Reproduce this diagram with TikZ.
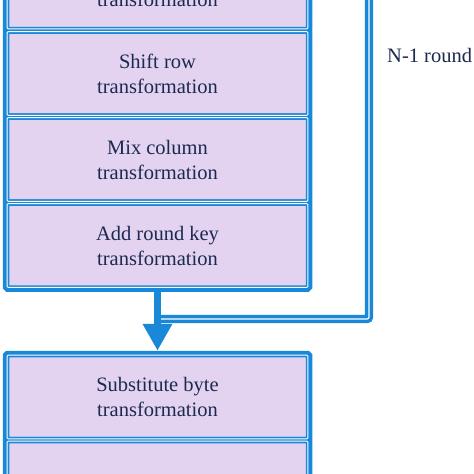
\documentclass[tikz,border=0pt]{standalone}
\usepackage{fontspec}
\setmainfont{Liberation Serif}
\usetikzlibrary{arrows.meta}
\definecolor{aesblue}{HTML}{1A88D8}
\definecolor{aesfill}{HTML}{E3D3F0}
\definecolor{aestext}{HTML}{1C2A50}
\tikzset{
  stagebox/.style={rectangle, draw=aesblue, fill=aesfill, line width=6.5pt,
    minimum width=303pt, minimum height=86pt, inner sep=0pt,
    align=center, text=aestext, font=\fontsize{20.5}{25}\selectfont,
    rounded corners=1.5pt},
  innerline/.style={draw=white, line width=0.9pt},
  flow/.style={draw=aesblue, line width=7pt},
  loopline/.style={draw=aesblue, line width=3.5pt, double=white, double distance=1.2pt},
  lbl/.style={text=aestext, font=\fontsize{20.5}{25}\selectfont, inner sep=0pt, anchor=west}
}
\begin{document}
\begin{tikzpicture}[x=1pt,y=-1pt]
\useasboundingbox (0,0) rectangle (474,474);
\clip (0,0) rectangle (474,474);
\fill[white] (0,0) rectangle (474,474);
% loop connector
\coordinate (j) at (157.5,319);
\coordinate (c) at (369,319);
\coordinate (t) at (369,-20);
\draw[loopline, rounded corners=2pt] (j) -- (c) -- (t);
% boxes
\node[stagebox] (top) at (157.5,-13) {Substitute byte\\transformation};
\node[stagebox] (shift) at (157.5,73.5) {Shift row\\transformation};
\node[stagebox] (mix) at (157.5,159.5) {Mix column\\transformation};
\node[stagebox] (add) at (157.5,245.5) {Add round key\\transformation};
\node[stagebox] (sub) at (157.5,397) {Substitute byte\\transformation};
\node[stagebox] (last) at (157.5,483) {};
\foreach \n in {top,shift,mix,add,sub,last}{
  \draw[innerline, rounded corners=1pt] ([xshift=4.4pt,yshift=-4.4pt]\n.north west) rectangle ([xshift=-4.4pt,yshift=4.4pt]\n.south east);
}
% arrow
\draw[flow, -{Triangle[width=28pt,length=27pt]}] (add.south) -- (sub.north);
% label
\node[lbl] (rounds) at (387,55) {N-1 round};
\end{tikzpicture}
\end{document}
